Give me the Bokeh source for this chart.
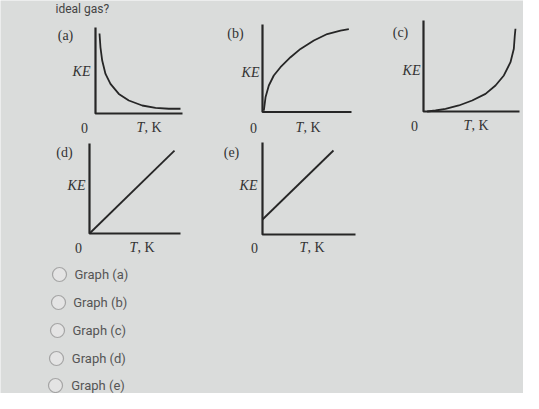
from bokeh.plotting import figure
from bokeh.models import Range1d
from bokeh.core.properties import value
from bokeh.embed import file_html
from bokeh.resources import INLINE

# ---- data (normalised: T and KE as fraction of each small graph's axis length) ----
a_T = [0.046, 0.057, 0.077, 0.115, 0.172, 0.268, 0.383, 0.537, 0.690, 0.843, 0.977]
a_KE = [0.930, 0.770, 0.616, 0.460, 0.345, 0.228, 0.151, 0.093, 0.066, 0.055, 0.055]

b_T = [0.015, 0.034, 0.071, 0.127, 0.202, 0.315, 0.427, 0.577, 0.727, 0.876, 0.970]
b_KE = [0.017, 0.168, 0.303, 0.417, 0.512, 0.626, 0.721, 0.817, 0.891, 0.930, 0.946]

c_T = [0.038, 0.125, 0.229, 0.368, 0.507, 0.646, 0.750, 0.837, 0.906, 0.941, 0.951, 0.958]
c_KE = [0.000, 0.011, 0.029, 0.066, 0.121, 0.194, 0.286, 0.396, 0.542, 0.689, 0.835, 0.909]

d_T = [0.0, 0.934]
d_KE = [0.0, 0.922]

e_T = [0.0, 0.763]
e_KE = [0.163, 0.913]

question_tail = "ideal gas?"
panel_names = ["(a)", "(b)", "(c)", "(d)", "(e)"]
y_label = "KE"
x_label_var = "T"
x_label_unit = ", K"
origin_label = "0"
options = ["Graph (a)", "Graph (b)", "Graph (c)", "Graph (d)", "Graph (e)"]

series = [(a_T, a_KE), (b_T, b_KE), (c_T, c_KE), (d_T, d_KE), (e_T, e_KE)]

# ---- layout (picture pixel positions) ----
# origin x, x end, origin y, top y
boxes = [
    (95, 182, 113, 27),
    (262, 351, 111.5, 24),
    (423, 519, 111, 20),
    (89, 180, 233, 143),
    (262, 355, 234, 142),
]
name_pos = [(65, 35), (235, 33), (400, 32), (64, 152), (231, 152)]
ke_pos = [(90, 71), (259, 72), (420, 70), (85, 185), (257, 185)]
zero_pos = [(84, 127), (253, 127), (414, 125), (78, 247), (254, 247)]
tk_center = [(148, 127), (307, 127), (475, 125), (141, 247), (311, 247)]
radio_pos = [(59, 274), (58, 302), (57, 330), (56, 358), (55, 385)]
opt_x = [74, 72.7, 72, 71.3, 70.7]

BG = "#dadcdb"
INK = "#262626"
SERIF = value("Liberation Serif")

p = figure(width=523, height=393, output_backend="svg", toolbar_location=None,
           x_range=Range1d(0, 523), y_range=Range1d(393, 0),
           x_axis_location=None, y_axis_location=None, min_border=0)
p.grid.visible = False
p.outline_line_color = None
p.background_fill_color = BG
p.border_fill_color = BG

# end of the question text at the top edge
p.text([55], [1], text=[question_tail], text_font=value("Roboto"), text_font_size="12px",
       text_align="left", text_baseline="top", text_color="#444444")

for i, ((T, KE), (x0, x1, y0, y1)) in enumerate(zip(series, boxes)):
    sub = p.subplot(x_source=Range1d(0, 1), y_source=Range1d(0, 1),
                    x_target=Range1d(x0, x1), y_target=Range1d(y0, y1))
    # axes of the small graph
    sub.line([0, 0, 1], [1, 0, 0], line_color=INK, line_width=2.2)
    sub.line(T, KE, line_color=INK, line_width=1.8)

    nx, ny = name_pos[i]
    p.text([nx], [ny], text=[panel_names[i]], text_font=SERIF, text_font_size="14px",
           text_align="center", text_baseline="middle", text_color="#333333")
    kx, ky = ke_pos[i]
    p.text([kx], [ky], text=[y_label], text_font=SERIF, text_font_style="italic",
           text_font_size="14px", text_align="right", text_baseline="middle",
           text_color="#333333")
    zx, zy = zero_pos[i]
    p.text([zx], [zy], text=[origin_label], text_font=SERIF, text_font_size="14px",
           text_align="center", text_baseline="middle", text_color="#333333")
    cx, cy = tk_center[i]
    p.text([cx - 12], [cy], text=[x_label_var], text_font=SERIF, text_font_style="italic",
           text_font_size="14px", text_align="left", text_baseline="middle",
           text_color="#333333")
    p.text([cx - 4], [cy], text=[x_label_unit], text_font=SERIF,
           text_font_size="14px", text_align="left", text_baseline="middle",
           text_color="#333333")

# answer options
p.scatter([r[0] for r in radio_pos], [r[1] for r in radio_pos], marker="circle", size=14,
          fill_color="#e4e4e4", line_color="#a5a5a5", line_width=1.2)
p.text(opt_x, [r[1] for r in radio_pos], text=options, text_font=value("Roboto"),
       text_font_size="13px", text_align="left", text_baseline="middle",
       text_color="#555555")

open("out.html", "w").write(file_html(p, INLINE))
